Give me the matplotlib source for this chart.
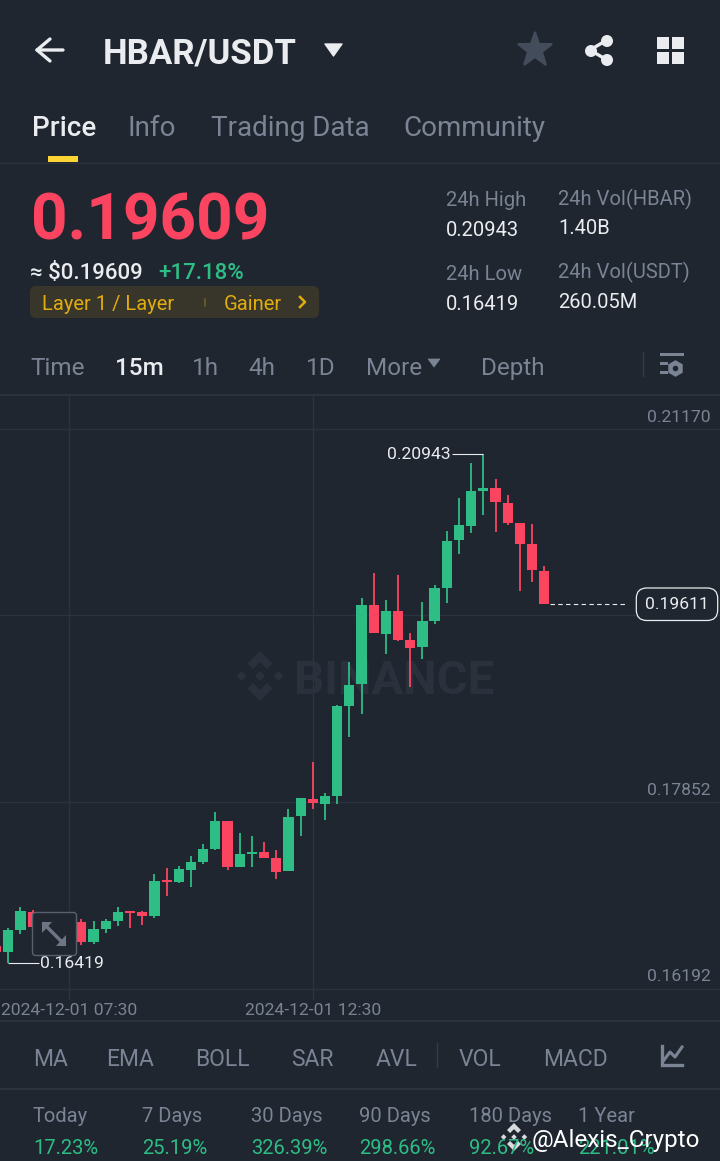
import matplotlib
matplotlib.use('Agg')
import matplotlib.pyplot as plt
from matplotlib.patches import FancyBboxPatch, Polygon, Circle, Rectangle

plt.rcParams['font.family'] = ['Roboto', 'DejaVu Sans']

# candles, 15m each, oldest first (c4..c6 sit under the expand button, estimated)
opens = [0.16574, 0.16515, 0.16714, 0.16877, 0.1673, 0.1680, 0.1672, 0.16785, 0.16607, 0.16726,
         0.16791, 0.16880, 0.16874, 0.16841, 0.17158, 0.17138, 0.17250, 0.17322, 0.17431, 0.17680,
         0.17271, 0.17390, 0.17408, 0.17351, 0.17236, 0.17728, 0.17882, 0.17837, 0.17908, 0.18703,
         0.18902, 0.19607, 0.19349, 0.19551, 0.19290, 0.19228, 0.19459, 0.19753, 0.20183, 0.20307,
         0.20618, 0.20642, 0.20515, 0.20331, 0.20144, 0.19910]
highs = [0.16574, 0.16735, 0.16921, 0.16892, 0.1684, 0.1683, 0.1680, 0.16809, 0.16794, 0.16809,
         0.16921, 0.16880, 0.16883, 0.17209, 0.17268, 0.17280, 0.17375, 0.17476, 0.17760, 0.17680,
         0.17580, 0.17547, 0.17497, 0.17422, 0.17787, 0.17885, 0.18208, 0.17929, 0.18715, 0.19094,
         0.19664, 0.19886, 0.19646, 0.19874, 0.19355, 0.19628, 0.19779, 0.20266, 0.20556, 0.20870,
         0.20943, 0.20722, 0.20586, 0.20331, 0.20328, 0.19954]
lows = [0.16515, 0.16419, 0.16675, 0.16729, 0.1670, 0.1668, 0.1670, 0.16580, 0.16592, 0.16690,
        0.16752, 0.16729, 0.16758, 0.16823, 0.17016, 0.17135, 0.17099, 0.17301, 0.17425, 0.17250,
        0.17271, 0.17271, 0.17357, 0.17170, 0.17236, 0.17547, 0.17787, 0.17692, 0.17831, 0.18433,
        0.18635, 0.19352, 0.19169, 0.19281, 0.18872, 0.19124, 0.19438, 0.19625, 0.20058, 0.20245,
        0.20402, 0.20257, 0.20316, 0.19732, 0.19812, 0.19611]
closes = [0.16515, 0.16711, 0.16880, 0.16737, 0.1680, 0.1672, 0.1678, 0.16610, 0.16723, 0.16791,
          0.16874, 0.16862, 0.16841, 0.17153, 0.17141, 0.17256, 0.17316, 0.17434, 0.17680, 0.17271,
          0.17387, 0.17408, 0.17357, 0.17233, 0.17722, 0.17885, 0.17840, 0.17908, 0.18703, 0.18896,
          0.19607, 0.19352, 0.19554, 0.19290, 0.19225, 0.19459, 0.19753, 0.20174, 0.20313, 0.20621,
          0.20645, 0.20521, 0.20334, 0.20150, 0.19916, 0.19611]

price_ticks = [0.21170, 0.19511, 0.17852, 0.16192]
price_labels = ['0.21170', '', '0.17852', '0.16192']
time_ticks = [6, 26]
time_labels = ['2024-12-01 07:30', '2024-12-01 12:30']
high_price = 0.20943
low_price = 0.16419
last_price = 0.19611

tabs = ['Price', 'Info', 'Trading Data', 'Community']
periods = ['Time', '15m', '1h', '4h', '1D', 'More', 'Depth']
indicators = ['MA', 'EMA', 'BOLL', 'SAR', 'AVL', 'VOL', 'MACD']
change_names = ['Today', '7 Days', '30 Days', '90 Days', '180 Days', '1 Year']
change_values = ['17.23%', '25.19%', '326.39%', '298.66%', '92.67%', '221.01%']

BG = '#1f2630'
GRID = '#2d333e'
GREEN = '#2ebd85'
RED = '#fb4560'
GRAY = '#7b8494'
WHITE = '#eaecef'

fig = plt.figure(figsize=(7.2, 11.61), dpi=100, facecolor=BG)


def box(left, top, right, bottom):
    # pixel box to figure fractions
    return [left / 720, 1 - bottom / 1161, (right - left) / 720, (bottom - top) / 1161]


# back layer, pixel coords, for the watermark
back = fig.add_axes([0, 0, 1, 1], zorder=0)
back.set_xlim(0, 720)
back.set_ylim(1161, 0)
back.axis('off')

# chart
ax = fig.add_axes(box(0, 395, 720, 1000), zorder=1)
ax.patch.set_alpha(0)
ax.set_xlim(0.3186, 59.43)
ax.set_ylim(0.16091, 0.21472)
for s in ax.spines.values():
    s.set_visible(False)
ax.set_xticks(time_ticks)
ax.set_xticklabels(time_labels, fontsize=12.6, color=GRAY)
ax.set_yticks(price_ticks)
ax.set_yticklabels([])
ax.tick_params(length=0, pad=2)
ax.grid(True, color=GRID, lw=1)
ax.set_axisbelow(True)

for lab in ax.get_xticklabels():
    lab.set_clip_on(False)

for i in range(len(opens)):
    col = GREEN if closes[i] >= opens[i] else RED
    ax.vlines(i, lows[i], highs[i], color=col, lw=1.3, zorder=3)
    ax.bar(i, abs(closes[i] - opens[i]), bottom=min(opens[i], closes[i]), width=0.84, color=col, lw=0, zorder=4)

for p, lab in zip(price_ticks, price_labels):
    ax.annotate(lab, xy=(1, p), xycoords=('axes fraction', 'data'), xytext=(-7, 3),
                textcoords='offset points', ha='right', va='bottom', fontsize=12.6, color=GRAY)

# high, low and last price marks
ax.hlines(high_price, 37.4, 40, color=WHITE, lw=0.8, zorder=5)
ax.text(37.3, high_price, '0.20943', ha='right', va='center', fontsize=12.6, color=WHITE, zorder=5)
ax.hlines(low_price, 1, 3.5, color=WHITE, lw=0.8, zorder=5)
ax.text(3.6, low_price, '0.16419', ha='left', va='center', fontsize=12.6, color=WHITE, zorder=6)
ax.hlines(last_price, 45.5, 51.7, color=WHITE, lw=0.8, linestyles=(0, (4, 3)), zorder=5)
ax.annotate('0.19611', xy=(677 / 720, last_price), xycoords=('axes fraction', 'data'), ha='center', va='center',
            fontsize=12.6, color=WHITE, zorder=6,
            bbox=dict(boxstyle='round,pad=0.5,rounding_size=0.6', fc=BG, ec=WHITE, lw=0.9))

# everything else, pixel coords
ui = fig.add_axes([0, 0, 1, 1], zorder=2)
ui.patch.set_alpha(0)
ui.set_xlim(0, 720)
ui.set_ylim(1161, 0)
ui.axis('off')


def label(x, y, s, size, color=GRAY, ha='left', weight='normal'):
    ui.text(x, y, s, fontsize=size, color=color, ha=ha, va='center_baseline', fontweight=weight)


def logo(target, cx, cy, r, color):
    d = 0.2 * r
    for ox in (-0.74 * r, 0, 0.74 * r):
        target.add_patch(Polygon([(cx + ox, cy - d), (cx + ox + d, cy), (cx + ox, cy + d), (cx + ox - d, cy)], fc=color, lw=0))
    for sgn in (-1, 1):
        pts = [(0, 1), (0.5, 0.5), (0.28, 0.28), (0, 0.56), (-0.28, 0.28), (-0.5, 0.5)]
        target.add_patch(Polygon([(cx + a * r, cy + sgn * b * r) for a, b in pts], fc=color, lw=0))


logo(back, 260, 676, 25, '#2b313c')
back.text(294, 676, 'BINANCE', fontsize=34, color='#2b313c', fontweight='bold', va='center_baseline')

# header
ui.plot([63, 37, 50], [50, 50, 39], color=WHITE, lw=2.4, solid_capstyle='round', solid_joinstyle='round')
ui.plot([37, 50], [50, 61], color=WHITE, lw=2.4, solid_capstyle='round')
label(103, 51, 'HBAR/USDT', 25, WHITE, weight='bold')
ui.add_patch(Polygon([(325, 44), (342, 44), (333.5, 56)], fc=WHITE, ec=WHITE, lw=1, joinstyle='round'))
ui.plot([535], [50], marker='*', ms=26, color='#434c5a', mec='#434c5a', mew=1.5)
ui.plot([607, 590, 607], [40, 50, 60], color=WHITE, lw=2.4)
for cx, cy in [(607, 41), (591, 51), (607, 60)]:
    ui.add_patch(Circle((cx, cy), 6, fc=WHITE, lw=0))
for gx, gy in [(657, 37), (672, 37), (657, 52), (672, 52)]:
    ui.add_patch(Rectangle((gx, gy), 12, 12, fc=WHITE, lw=0))

# tabs
tab_x = [32, 127, 211, 403]
for n in range(len(tabs)):
    label(tab_x[n], 126, tabs[n], 20, WHITE if n == 0 else GRAY, weight='medium' if n == 0 else 'normal')
ui.add_patch(Rectangle((48, 156), 30, 6, fc='#fcd535', lw=0))
ui.plot([0, 720], [162.5, 162.5], color=GRID, lw=1)

# price block
label(31, 216, '0.19609', 46, RED, weight='bold')
label(30, 271, '≈ $0.19609', 16, WHITE, weight='medium')
label(158, 271, '+17.18%', 16, GREEN, weight='medium')
ui.add_patch(FancyBboxPatch((36, 292), 277, 20, boxstyle='round,pad=6', fc='#38352a', lw=0))
label(42, 302, 'Layer 1 / Layer', 14.5, '#e0ac0e')
label(224, 302, 'Gainer', 14.5, '#e0ac0e')
ui.plot([205, 205], [299, 306], color='#6e5f20', lw=1.2)
ui.plot([300, 305, 300], [297, 302, 307], color='#e0ac0e', lw=1.8)

label(446, 199, '24h High', 14.5)
label(446, 228, '0.20943', 14.5, WHITE)
label(446, 272, '24h Low', 14.5)
label(446, 302, '0.16419', 14.5, WHITE)
label(558, 197, '24h Vol(HBAR)', 14.5)
label(558, 226, '1.40B', 14.5, WHITE)
label(558, 270, '24h Vol(USDT)', 14.5)
label(558, 300, '260.05M', 14.5, WHITE)

# period row
period_x = [30, 115, 192, 248, 306, 366, 481]
for n in range(len(periods)):
    label(period_x[n], 366, periods[n], 17.5, WHITE if n == 1 else GRAY, weight='medium' if n == 1 else 'normal')
ui.add_patch(Polygon([(428, 359), (440, 359), (434, 367)], fc=GRAY, ec=GRAY, lw=0.5))
ui.plot([643, 643], [352, 376], color='#343b47', lw=1)
ui.add_patch(Rectangle((660, 353), 24, 3, fc=GRAY, lw=0))
ui.add_patch(Rectangle((660, 362), 8, 3, fc=GRAY, lw=0))
ui.add_patch(Rectangle((660, 371), 8, 3, fc=GRAY, lw=0))
ui.plot([675], [368], marker='h', ms=12, color=GRAY, mew=0)
ui.plot([675], [368], marker='o', ms=4, color=BG, mew=0)
ui.plot([0, 720], [395, 395], color=GRID, lw=1.5)

# expand button sits over the candles
ui.add_patch(FancyBboxPatch((34, 914), 41, 40, boxstyle='round,pad=1.5,rounding_size=3', fc=BG, ec='#59606c', lw=1))
ui.plot([44, 64], [924, 944], color='#6e7685', lw=2.5)
ui.add_patch(Polygon([(42, 922), (52, 922), (42, 933)], fc='#6e7685', lw=0))
ui.add_patch(Polygon([(66, 946), (56, 946), (66, 935)], fc='#6e7685', lw=0))

# indicator row
ui.plot([0, 720], [1021, 1021], color=GRID, lw=1.5)
indicator_x = [33, 106, 195, 291, 376, 459, 543]
for n in range(len(indicators)):
    label(indicator_x[n], 1057, indicators[n], 16.5)
ui.plot([437, 437], [1043, 1067], color='#343b47', lw=1)
ui.plot([662, 662, 682], [1046, 1065, 1065], color=GRAY, lw=2.4, solid_joinstyle='miter')
ui.plot([664, 670, 675, 682], [1060, 1052, 1057, 1047], color=GRAY, lw=2.2)
ui.plot([0, 720], [1088.5, 1088.5], color=GRID, lw=1.5)

# change row
name_x = [33, 142, 251, 359, 469, 578]
value_x = [33, 142, 251, 359, 469, 578]
for n in range(len(change_names)):
    label(name_x[n], 1115, change_names[n], 14.5)
    label(value_x[n], 1147, change_values[n], 14.5, GREEN)

# watermark of the poster
logo(ui, 514, 1137, 14, '#d8dade')
ui.text(532, 1138, '@Alexis_Crypto', fontsize=17.5, color='white', va='center_baseline')

plt.savefig('out.png', dpi=100, facecolor=BG)
